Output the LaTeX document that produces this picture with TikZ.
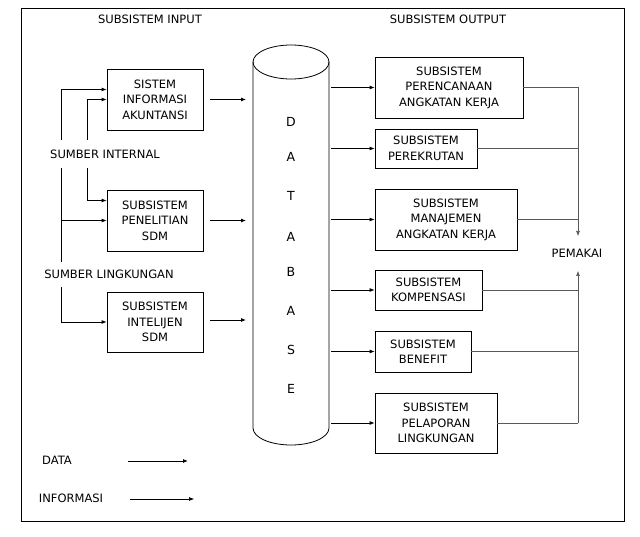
\documentclass[tikz,border=0pt]{standalone}
\usepackage{fontspec}
\setmainfont{DejaVu Sans}
\usetikzlibrary{arrows.meta}
\begin{document}
\begin{tikzpicture}[x=1pt,y=-1pt,
  every node/.style={font=\fontsize{11.5}{15.5}\selectfont},
  box/.style={draw,thick,align=center,inner sep=0pt},
  lbl/.style={inner sep=1pt},
  dat/.style={-{Latex[length=5pt,width=4pt]},thick},
  inf/.style={-{Latex[length=5pt,width=4pt]},draw=gray!70!black,semithick}]
\useasboundingbox (0,0) rectangle (640,537);
\draw[thick] (21,8) rectangle (624,521);
\node at (150,19) {SUBSISTEM INPUT};
\node at (448,19) {SUBSISTEM OUTPUT};
% left boxes
\node[box,minimum width=96pt,minimum height=61pt] (sia) at (155,99.5) {SISTEM\\INFORMASI\\AKUNTANSI};
\node[box,minimum width=96pt,minimum height=61pt] (pen) at (155,220.5) {SUBSISTEM\\PENELITIAN\\SDM};
\node[box,minimum width=96pt,minimum height=60pt] (int) at (155,322) {SUBSISTEM\\INTELIJEN\\SDM};
\node[lbl] (si) at (105,154) {SUMBER INTERNAL};
\node[lbl] (sl) at (109,274) {SUMBER LINGKUNGAN};
\coordinate (a1) at (61,140); \coordinate (a2) at (87,140);
\coordinate (b1) at (61,168); \coordinate (b2) at (87,168);
\coordinate (c1) at (61,287);
\draw[dat] (a1) |- ([yshift=10pt]sia.west);
\draw[dat] (a2) |- (sia.west);
\draw[dat] (b2) |- ([yshift=20pt]pen.west);
\draw[thick] (b1) -- (61,262);
\draw[dat] (61,220.5) -- (pen.west);
\draw[dat] (c1) |- (int.west);
% database
\draw[thick] (253,62) -- (253,428) arc[start angle=180,end angle=0,x radius=38,y radius=17] -- (329,62);
\draw[thick] (291,62) ellipse[x radius=38,y radius=17];
\node (db) at (291,250) {};
\foreach \l/\y in {D/122,A/157,T/196,A/237,B/272,A/311,S/350,E/389}
  \node at (291,\y) {\fontsize{12.5}{14}\selectfont\l};
\coordinate (i1) at (210,99.5); \coordinate (i1e) at (246,99.5);
\coordinate (i2) at (210,220.5); \coordinate (i2e) at (246,220.5);
\coordinate (i3) at (210,320); \coordinate (i3e) at (246,320);
\draw[dat] (i1) -- (i1e); \draw[dat] (i2) -- (i2e); \draw[dat] (i3) -- (i3e);
% right boxes
\node[box,minimum width=148pt,minimum height=61pt] (r1) at (449,87.5) {SUBSISTEM\\PERENCANAAN\\ANGKATAN KERJA};
\node[box,minimum width=102pt,minimum height=39pt] (r2) at (426,148.5) {SUBSISTEM\\PEREKRUTAN};
\node[box,minimum width=142pt,minimum height=61pt] (r3) at (446,219.5) {SUBSISTEM\\MANAJEMEN\\ANGKATAN KERJA};
\node[box,minimum width=107pt,minimum height=40pt] (r4) at (428.5,290) {SUBSISTEM\\KOMPENSASI};
\node[box,minimum width=96pt,minimum height=41pt] (r5) at (423,351.5) {SUBSISTEM\\BENEFIT};
\node[box,minimum width=122pt,minimum height=60pt] (r6) at (436,423) {SUBSISTEM\\PELAPORAN\\LINGKUNGAN};
\foreach \r in {r1,r2,r3,r4,r5,r6}
  \draw[dat] (331,0 |- \r.west) -- (\r.west);
\node[lbl] (pm) at (577,253) {PEMAKAI};
\foreach \r in {r1,r2,r3} \draw[gray!70!black,semithick] (\r.east) -- (578,0 |- \r.east);
\foreach \r in {r4,r5,r6} \draw[gray!70!black,semithick] (\r.east) -- (578,0 |- \r.east);
\draw[inf] (578,87.5) -- (578,236);
\draw[inf] (578,423) -- (578,271);
% legend
\node[lbl] (ld) at (57,460) {DATA};
\coordinate (ld1) at (128,461); \coordinate (ld2) at (188,461);
\draw[dat] (ld1) -- (ld2);
\node[lbl] (li) at (71,498) {INFORMASI};
\coordinate (li1) at (130,499); \coordinate (li2) at (194,499);
\draw[-{Latex[length=5pt,width=4pt]},semithick] (li1) -- (li2);
\end{tikzpicture}
\end{document}
